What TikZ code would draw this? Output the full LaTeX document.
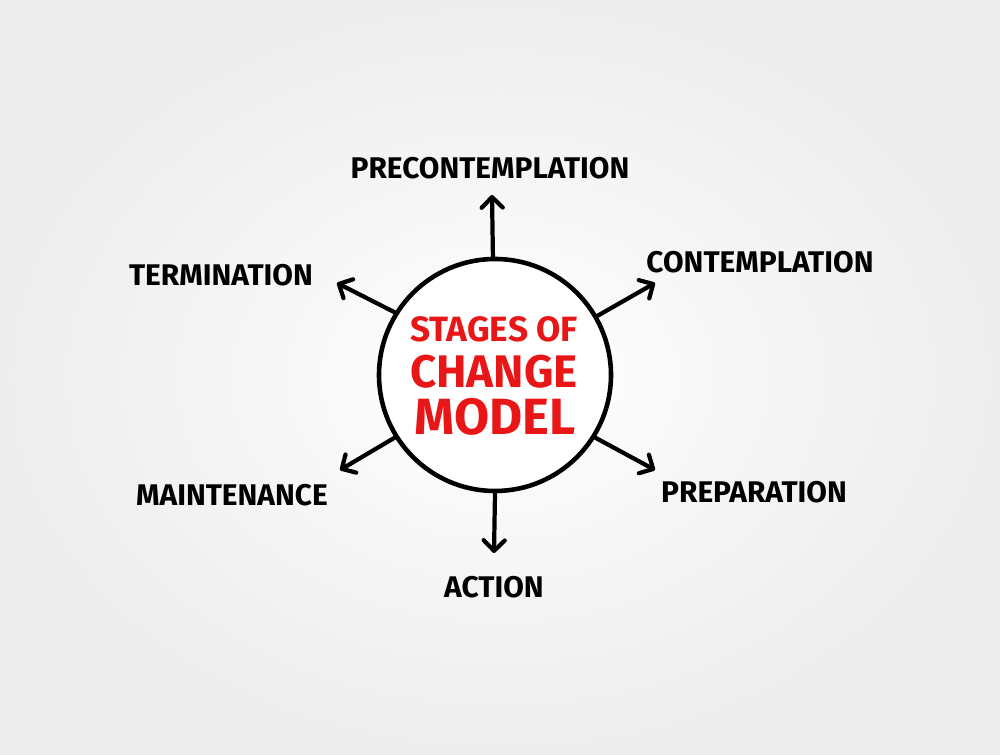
\documentclass[tikz,border=0pt]{standalone}
\usepackage{fontspec}
\setmainfont{Fira Sans}
\usetikzlibrary{arrows.meta}
\definecolor{markred}{RGB}{232,22,22}
\begin{document}
\begin{tikzpicture}[
    stage/.style={font=\fontsize{17}{19}\selectfont\bfseries},
    title/.style={text=markred, inner sep=0pt, font=\fontsize{#1}{#1}\selectfont\bfseries},
    spoke/.style={line width=2.4pt, line cap=round,
        -{Straight Barb[length=6pt,width=12pt,line width=2.4pt,round]}}
]
\def\frame{(0,0) rectangle (20,15.1)}
\useasboundingbox \frame;
\shade[inner color=white, outer color=black!7] \frame;

% the circle in the middle
\node[circle, draw, line width=2.6pt, fill=white, minimum size=4.64cm] (c) at (9.9,7.6) {};
\node[title=20] (t1) at (9.88,8.52) {STAGES OF};
\node[title=26] (t2) at (9.88,7.66) {CHANGE};
\node[title=29] (t3) at (9.9,6.76) {MODEL};

% tips of the arrows
\coordinate (a1) at (9.84,11.2);
\coordinate (a2) at (13.1,9.44);
\coordinate (a3) at (13.1,5.7);
\coordinate (a4) at (9.88,4.04);
\coordinate (a5) at (6.8,5.7);
\coordinate (a6) at (6.74,9.44);

\draw[spoke] (c.91) -- (a1);
\draw[spoke] (c.30) -- (a2);
\draw[spoke] (c.-32) -- (a3);
\draw[spoke] (c.-90) -- (a4);
\draw[spoke] (c.212) -- (a5);
\draw[spoke] (c.148) -- (a6);

\node[stage] (s1) at (9.8,11.74) {PRECONTEMPLATION};
\node[stage] (s2) at (15.2,9.86) {CONTEMPLATION};
\node[stage] (s3) at (15.08,5.26) {PREPARATION};
\node[stage] (s4) at (9.88,3.36) {ACTION};
\node[stage] (s5) at (4.64,5.2) {MAINTENANCE};
\node[stage] (s6) at (4.42,9.6) {TERMINATION};
\end{tikzpicture}
\end{document}
